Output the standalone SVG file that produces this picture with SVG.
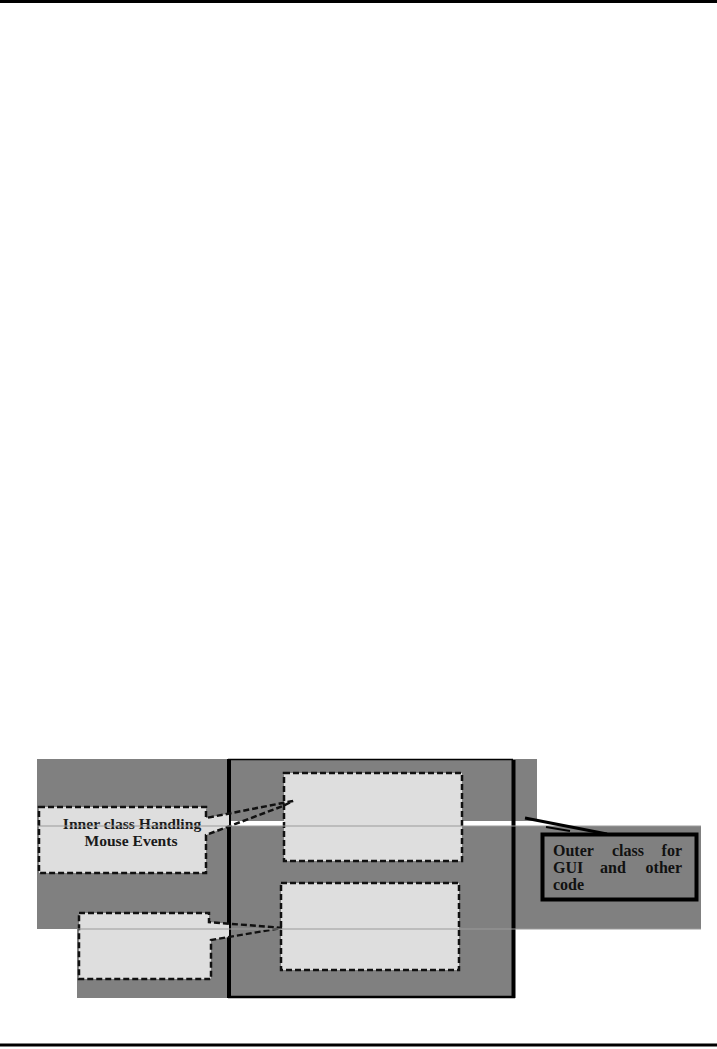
<svg xmlns="http://www.w3.org/2000/svg" width="717" height="1049" viewBox="0 0 717 1049">
<style>
.bg{fill:#808080}
.dash{fill:#dedede;stroke:#111;stroke-width:2.5;stroke-dasharray:6,3}
.dashline{fill:none;stroke:#111;stroke-width:2.5;stroke-dasharray:6,3}
.seam{stroke:#9a9a9a;stroke-width:1}
.lbl{font-family:"Liberation Serif","Times New Roman",serif;font-size:15.6px;font-weight:bold;fill:#1a1a1a}
.olbl{font-family:"Liberation Serif","Times New Roman",serif;font-size:16px;font-weight:bold;fill:#111}
</style>
<defs>
<clipPath id="leftOfMain"><rect x="0" y="0" width="229" height="1049"/></clipPath>
</defs>
<rect x="0" y="0" width="717" height="3" fill="#000"/>
<line x1="0" y1="1045" x2="717" y2="1045" stroke="#000" stroke-width="3"/>
<g id="background">
<rect class="bg" x="37" y="759" width="500" height="62"/>
<rect class="bg" x="37" y="759" width="192" height="170"/>
<rect class="bg" x="228" y="826" width="473" height="103"/>
<rect class="bg" x="77" y="929" width="438" height="69"/>
</g>
<g id="main-box">
<line x1="228" y1="759.5" x2="513" y2="759.5" stroke="#000" stroke-width="1.5"/>
<line x1="228" y1="997" x2="515" y2="997" stroke="#000" stroke-width="2.5"/>
<line x1="229" y1="759" x2="229" y2="998" stroke="#000" stroke-width="4"/>
<line x1="513.5" y1="760" x2="513.5" y2="998" stroke="#000" stroke-width="4"/>
</g>
<g id="inner-box-1"><rect class="dash" x="284" y="773" width="178" height="88"/></g>
<g id="inner-box-2"><rect class="dash" x="281" y="883" width="178" height="87"/></g>
<g id="callout-1">
<path d="M39,807 H206 V818 L293,801 L283,806 L206,835 V873 H39 Z" fill="#dedede" stroke="none" clip-path="url(#leftOfMain)"/>
<path class="dashline" d="M39,807 H206 V818 L293,801 L283,806 L206,835 V873 H39 Z"/>
<text class="lbl" x="132" y="829" text-anchor="middle">Inner class Handling</text>
<text class="lbl" x="131" y="846" text-anchor="middle">Mouse Events</text>
</g>
<g id="callout-2">
<path d="M79,913 H209 V922 L282,928 L211,940 V979 H79 Z" fill="#dedede" stroke="none" clip-path="url(#leftOfMain)"/>
<path class="dashline" d="M79,913 H209 V922 L282,928 L211,940 V979 H79 Z"/>
</g>
<g id="seams">
<line class="seam" x1="37" y1="826" x2="701" y2="826"/>
<line class="seam" x1="77" y1="929" x2="701" y2="929"/>
</g>
<g id="connectors">
<line x1="525" y1="818" x2="607" y2="834" stroke="#000" stroke-width="3"/>
<line x1="546" y1="827" x2="570" y2="831" stroke="#000" stroke-width="2"/>
</g>
<g id="outer-class">
<rect x="542.5" y="834.5" width="154" height="65" fill="#808080" stroke="#000" stroke-width="4"/>
<text class="olbl" x="553" y="856">Outer</text>
<text class="olbl" x="628" y="856" text-anchor="middle">class</text>
<text class="olbl" x="682" y="856" text-anchor="end">for</text>
<text class="olbl" x="553" y="873">GUI</text>
<text class="olbl" x="613" y="873" text-anchor="middle">and</text>
<text class="olbl" x="682" y="873" text-anchor="end">other</text>
<text class="olbl" x="553" y="890">code</text>
</g>
</svg>
